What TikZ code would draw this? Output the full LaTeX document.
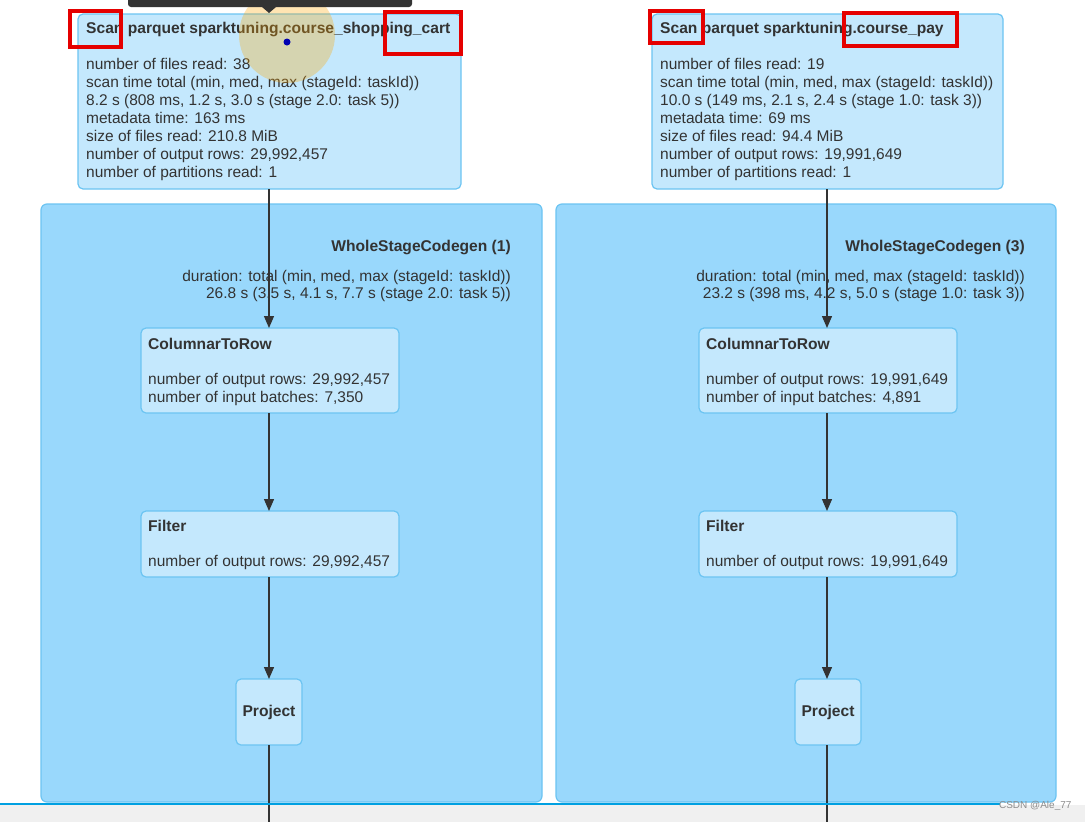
\documentclass[tikz,border=0pt]{standalone}
\usepackage{fontspec}
\setmainfont{Liberation Sans}
\usetikzlibrary{arrows.meta}
\definecolor{boxfill}{HTML}{C4E8FD}
\definecolor{boxline}{HTML}{6CC4F2}
\definecolor{contfill}{HTML}{99D8FC}
\definecolor{txt}{HTML}{333333}
\tikzset{
  opbox/.style={draw=boxline,fill=boxfill,rounded corners=5pt,line width=1.2pt},
  cont/.style={draw=boxline,fill=contfill,rounded corners=6pt,line width=1.2pt},
  ttl/.style={anchor=west,font=\fontsize{15.6}{17}\selectfont\bfseries,text=txt,inner sep=0},
  body/.style={anchor=north west,font=\fontsize{15.5}{18}\selectfont,text=txt,inner sep=0,align=left},
  rbody/.style={anchor=north east,font=\fontsize{15.5}{17}\selectfont,text=txt,inner sep=0,align=right},
  conn/.style={draw=black!80,line width=1.3pt,-{Triangle[length=12pt,width=10pt]}},
  redr/.style={draw=red!90!black,line width=3.5pt},
}
\begin{document}
\begin{tikzpicture}[x=1pt,y=-1pt]
\useasboundingbox (0,0) rectangle (1085,822);
\fill[white] (0,0) rectangle (1085,822);
% containers
\draw[cont] (41,204) rectangle (542,802);
\draw[cont] (556,204) rectangle (1056,802);
\node[anchor=east,font=\fontsize{15.6}{17}\selectfont\bfseries,text=txt,inner sep=0] (wl) at (511,247) {WholeStageCodegen (1)};
\node[rbody] (dl) at (511,270) {duration: total (min, med, max (stageId: taskId))\\26.8 s (3.5 s, 4.1 s, 7.7 s (stage 2.0: task 5))};
\node[anchor=east,font=\fontsize{15.6}{17}\selectfont\bfseries,text=txt,inner sep=0] (wr) at (1025,247) {WholeStageCodegen (3)};
\node[rbody] (dr) at (1025,270) {duration: total (min, med, max (stageId: taskId))\\23.2 s (398 ms, 4.2 s, 5.0 s (stage 1.0: task 3))};
% scan boxes
\draw[opbox] (78,14) rectangle (461,189);
\node[coordinate] (sl) at (269,189) {};
\node[ttl] (slt) at (86,30) {Scan parquet sparktuning.course\_shopping\_cart};
\node[body] (slb) at (86,58) {number of files read: 38\\scan time total (min, med, max (stageId: taskId))\\8.2 s (808 ms, 1.2 s, 3.0 s (stage 2.0: task 5))\\metadata time: 163 ms\\size of files read: 210.8 MiB\\number of output rows: 29,992,457\\number of partitions read: 1};
\draw[opbox] (652,14) rectangle (1003,189);
\node[coordinate] (sr) at (827,189) {};
\node[ttl] (srt) at (660,30) {Scan parquet sparktuning.course\_pay};
\node[body] (srb) at (660,58) {number of files read: 19\\scan time total (min, med, max (stageId: taskId))\\10.0 s (149 ms, 2.1 s, 2.4 s (stage 1.0: task 3))\\metadata time: 69 ms\\size of files read: 94.4 MiB\\number of output rows: 19,991,649\\number of partitions read: 1};
% left ops
\draw[opbox] (141,328) rectangle (399,413);
\node[coordinate] (cl1) at (269,328) {}; \node[coordinate] (cl2) at (269,413) {};
\node[ttl] at (148,344) {ColumnarToRow};
\node[body] at (148,373) {number of output rows: 29,992,457\\number of input batches: 7,350};
\draw[opbox] (141,511) rectangle (399,577);
\node[coordinate] (fl1) at (269,511) {}; \node[coordinate] (fl2) at (269,577) {};
\node[ttl] at (148,526) {Filter};
\node[body] at (148,555) {number of output rows: 29,992,457};
\draw[opbox] (236,679) rectangle (302,745);
\node[font=\fontsize{15.6}{17}\selectfont\bfseries,text=txt] (pl) at (269,712) {Project};
\node[coordinate] (pl1) at (269,679) {}; \node[coordinate] (pl2) at (269,745) {};
% right ops
\draw[opbox] (699,328) rectangle (957,413);
\node[coordinate] (cr1) at (827,328) {}; \node[coordinate] (cr2) at (827,413) {};
\node[ttl] at (706,344) {ColumnarToRow};
\node[body] at (706,373) {number of output rows: 19,991,649\\number of input batches: 4,891};
\draw[opbox] (699,511) rectangle (957,577);
\node[coordinate] (fr1) at (827,511) {}; \node[coordinate] (fr2) at (827,577) {};
\node[ttl] at (706,526) {Filter};
\node[body] at (706,555) {number of output rows: 19,991,649};
\draw[opbox] (795,679) rectangle (861,745);
\node[font=\fontsize{15.6}{17}\selectfont\bfseries,text=txt] (pr) at (828,712) {Project};
\node[coordinate] (pr1) at (827,679) {}; \node[coordinate] (pr2) at (827,745) {};
% connectors
\draw[conn] (sl) -- (cl1); \draw[conn] (cl2) -- (fl1); \draw[conn] (fl2) -- (pl1);
\draw[conn] (sr) -- (cr1); \draw[conn] (cr2) -- (fr1); \draw[conn] (fr2) -- (pr1);
% bottom strip
\fill[black!6] (0,805) rectangle (1085,822);
\draw[draw=black!80,line width=1.3pt] (pl2) -- (269,822);
\draw[draw=black!80,line width=1.3pt] (pr2) -- (827,822);
\draw[draw={rgb,255:red,0;green,160;blue,225},line width=2pt] (0,804) -- (1000,804);
\node[anchor=east,font=\fontsize{10}{11}\selectfont,text=black!45] (wm) at (1075,806) {CSDN @Ale\_77};
% overlay artifacts
\fill[orange!70!yellow,opacity=0.3] (287,35) circle (48);
\fill[blue!70!black] (287,42) circle (3.5);
\fill[black!80,rounded corners=3pt] (128,-5) rectangle (412,7);
\fill[black!80] (262,7) -- (276,7) -- (269,13) -- cycle;
% red marks
\draw[redr] (70,11) rectangle (121,47);
\draw[redr] (385,12) rectangle (461,54);
\draw[redr] (650,11) rectangle (703,43);
\draw[redr] (844,13) rectangle (957,46);
\end{tikzpicture}
\end{document}
